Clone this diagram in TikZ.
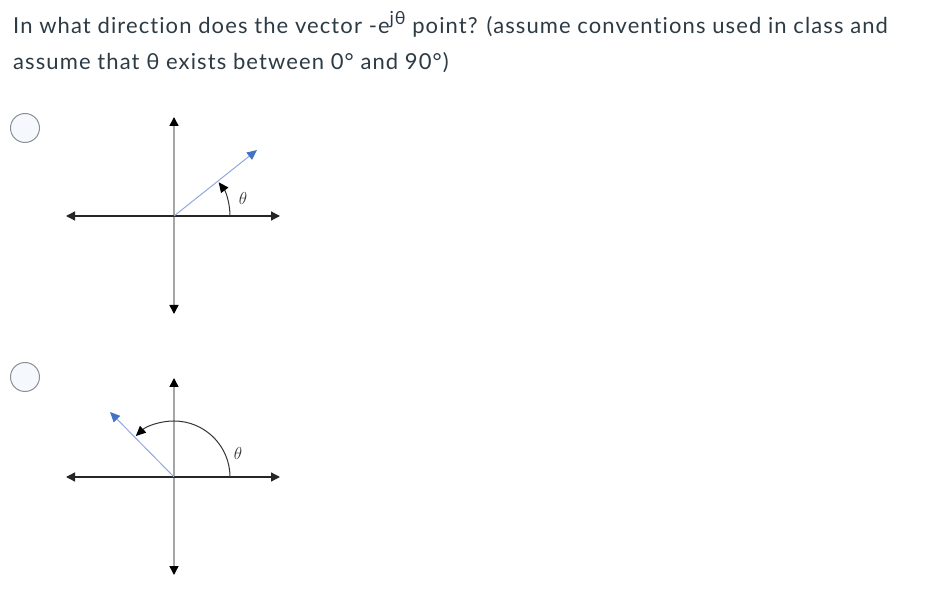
\documentclass[tikz,border=0pt]{standalone}
\usepackage{fontspec}
\setmainfont{Lato}[Ligatures={NoCommon}, LetterSpace=5]
\usetikzlibrary{arrows.meta}
\definecolor{axgray}{HTML}{A6A6A6}
\definecolor{vecline}{HTML}{8FAADC}
\definecolor{vectip}{HTML}{4472C4}
\definecolor{radiofill}{HTML}{F5F8FD}
\definecolor{radiodraw}{HTML}{8A8F96}
\definecolor{txt}{HTML}{2D3B45}
\tikzset{
  qtext/.style={anchor=base west, inner sep=0pt, font=\fontsize{22}{26}\selectfont, text=txt},
  radio/.style={circle, draw=radiodraw, fill=radiofill, line width=1pt, minimum size=29pt, inner sep=0pt},
  haxis/.style={draw=black!85, line width=1.3pt, {Triangle[length=9pt,width=9pt]}-{Triangle[length=9pt,width=9pt]}},
  vaxis/.style={draw=axgray, line width=1.5pt, {Triangle[length=9pt,width=9pt,color=black]}-{Triangle[length=9pt,width=9pt,color=black]}},
  vec/.style={draw=vecline, line width=1pt, -{Triangle[length=10pt,width=9pt,color=vectip]}},
  anglearc/.style={draw=black!80, line width=1pt, -{Triangle[length=10pt,width=9pt,color=black]}},
  thlabel/.style={font=\fontsize{17}{17}\selectfont, text=black!80, inner sep=0pt}
}
\begin{document}
\begin{tikzpicture}[x=1pt,y=-1pt]
\useasboundingbox[fill=white] (0,0) rectangle (943,601);
% question
\node[qtext] (q1) at (13,34) {In what direction does the vector -e\raisebox{0.45em}{\fontsize{18}{18}\selectfont jθ} point? (assume conventions used in class and};
\node[qtext] (q2) at (13,70) {assume that θ exists between 0° and 90°)};
% radio buttons
\node[radio] (r1) at (25,128) {};
\node[radio] (r2) at (25,377) {};
% figure 1
\coordinate (o1) at (174,216);
\coordinate (t1) at (174,117);
\coordinate (b1) at (174,314);
\coordinate (l1) at (66,216);
\coordinate (e1) at (280,216);
\coordinate (v1) at (257,150);
\draw[vaxis] (b1) -- (t1);
\draw[haxis] (l1) -- (e1);
\draw[vec] (o1) -- (v1);
\draw[anglearc] (230,216) arc[start angle=0, end angle=-37, radius=56];
\node[thlabel] (th1) at (243,199) {$\theta$};
% figure 2
\coordinate (o2) at (174,477);
\coordinate (t2) at (174,378);
\coordinate (b2) at (174,575);
\coordinate (l2) at (66,477);
\coordinate (e2) at (280,477);
\coordinate (v2) at (110,412);
\draw[vaxis] (b2) -- (t2);
\draw[haxis] (l2) -- (e2);
\draw[vec] (o2) -- (v2);
\draw[anglearc] (230,477) arc[start angle=0, end angle=-133, radius=56];
\node[thlabel] (th2) at (238,454) {$\theta$};
\end{tikzpicture}
\end{document}
